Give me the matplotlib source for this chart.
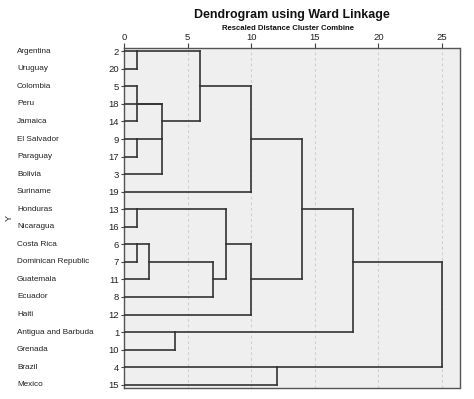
import matplotlib
matplotlib.use("Agg")
import matplotlib.pyplot as plt
import matplotlib.transforms as mtransforms

# Leaves in display order (top to bottom)
countries = ["Argentina", "Uruguay", "Colombia", "Peru", "Jamaica", "El Salvador",
             "Paraguay", "Bolivia", "Suriname", "Honduras", "Nicaragua", "Costa Rica",
             "Dominican Republic", "Guatemala", "Ecuador", "Haiti", "Antigua and Barbuda",
             "Grenada", "Brazil", "Mexico"]
case_ids = [2, 20, 5, 18, 14, 9, 17, 3, 19, 13, 16, 6, 7, 11, 8, 12, 1, 10, 4, 15]

# Merges: node indices (leaves 0..19, new nodes 20+), rescaled distance, row of joined line
merge_left = [2, 3, 5, 22, 21, 0, 25, 26, 9, 11, 29, 30, 28, 32, 27, 16, 34, 18, 36]
merge_right = [4, 20, 6, 7, 23, 1, 24, 8, 10, 12, 13, 14, 31, 15, 33, 17, 35, 19, 37]
merge_height = [1, 3, 1, 3, 3, 1, 6, 10, 1, 1, 2, 7, 8, 10, 14, 4, 18, 12, 25]
merge_row = [3, 3, 5, 5, 4, 0, 2, 5, 9, 11, 12, 13, 11, 13, 9, 16, 12, 18, 15]

xticks = [0, 5, 10, 15, 20, 25]

FONT = "Liberation Sans"
W, H = 474, 399
fig = plt.figure(figsize=(W / 100, H / 100), dpi=100)
fig.patch.set_facecolor("white")
ax = fig.add_axes([124 / W, 1 - 387.7 / H, (459.5 - 124) / W, (387.7 - 48.3) / H])
ax.set_facecolor("#efefef")

n = len(countries)
node_row = list(range(n))
node_h = [0.0] * n
line_kw = dict(color="#333333", lw=1.2, solid_capstyle="projecting", zorder=3)
for a, b, h, r in zip(merge_left, merge_right, merge_height, merge_row):
    for c in (a, b):
        ax.plot([node_h[c], h], [node_row[c], node_row[c]], **line_kw)
    ax.plot([h, h], [node_row[a], node_row[b]], **line_kw)
    node_row.append(r)
    node_h.append(h)

ax.set_xlim(0, 26.38)
ax.set_ylim(n - 1 + 0.17, -0.17)

for xv in xticks[1:]:
    ax.axvline(xv, color="#d0d0d0", lw=0.8, ls=(0, (2.5, 2.5)), zorder=1)

ax.xaxis.tick_top()
ax.set_xticks(xticks)
ax.set_xticklabels([str(v) for v in xticks], fontsize=6.8, family=FONT, color="#222222")
ax.tick_params(axis="x", direction="out", length=3.5, width=0.8, pad=1, color="#444444")
ax.set_yticks(range(n))
ax.set_yticklabels([str(v) for v in case_ids], fontsize=6.8, family=FONT, color="#222222")
ax.tick_params(axis="y", direction="out", length=2, width=0.8, pad=1.5, color="#444444")

for s in ax.spines.values():
    s.set_color("#555555")
    s.set_linewidth(1.0)

trans = mtransforms.blended_transform_factory(fig.transFigure, ax.transData)
for i, name in enumerate(countries):
    ax.text(17 / W, i, name, transform=trans, ha="left", va="center",
            fontsize=5.9, family=FONT, color="#222222")

fig.text(9 / W, 1 - 218 / H, "Y", rotation=90, ha="center", va="center",
         fontsize=6.5, family=FONT, color="#222222")
fig.text(292 / W, 1 - 15 / H, "Dendrogram using Ward Linkage", ha="center", va="center",
         fontsize=8.9, fontweight="bold", family=FONT, color="#111111")
fig.text(288 / W, 1 - 28 / H, "Rescaled Distance Cluster Combine", ha="center", va="center",
         fontsize=5.6, fontweight="bold", family=FONT, color="#111111")

fig.savefig("out.png", dpi=100)
